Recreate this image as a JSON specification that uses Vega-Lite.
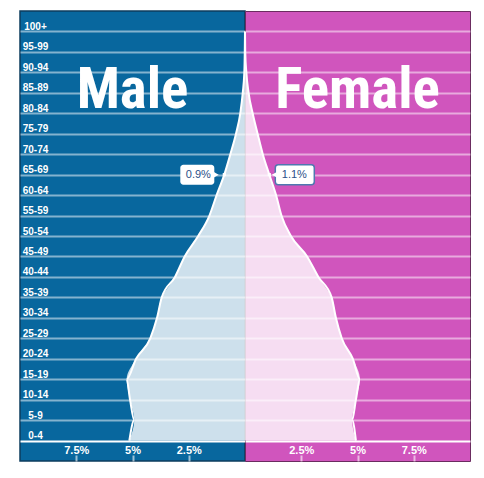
{
  "$schema": "https://vega.github.io/schema/vega-lite/v6.json",
  "padding": {"left": 19, "top": 10, "right": 15, "bottom": 18},
  "background": "white",
  "config": {"font": "Liberation Sans"},
  "data": {
    "values": [
      {"age": "0-4", "sex": "Male", "pct": 5.14},
      {"age": "5-9", "sex": "Male", "pct": 4.92},
      {"age": "10-14", "sex": "Male", "pct": 5.11},
      {"age": "15-19", "sex": "Male", "pct": 5.26},
      {"age": "20-24", "sex": "Male", "pct": 4.84},
      {"age": "25-29", "sex": "Male", "pct": 4.21},
      {"age": "30-34", "sex": "Male", "pct": 3.91},
      {"age": "35-39", "sex": "Male", "pct": 3.70},
      {"age": "40-44", "sex": "Male", "pct": 3.11},
      {"age": "45-49", "sex": "Male", "pct": 2.68},
      {"age": "50-54", "sex": "Male", "pct": 2.08},
      {"age": "55-59", "sex": "Male", "pct": 1.58},
      {"age": "60-64", "sex": "Male", "pct": 1.26},
      {"age": "65-69", "sex": "Male", "pct": 0.92},
      {"age": "70-74", "sex": "Male", "pct": 0.65},
      {"age": "75-79", "sex": "Male", "pct": 0.40},
      {"age": "80-84", "sex": "Male", "pct": 0.21},
      {"age": "85-89", "sex": "Male", "pct": 0.10},
      {"age": "90-94", "sex": "Male", "pct": 0.03},
      {"age": "95-99", "sex": "Male", "pct": 0.01},
      {"age": "100+", "sex": "Male", "pct": 0.0},
      {"age": "0-4", "sex": "Female", "pct": 4.93},
      {"age": "5-9", "sex": "Female", "pct": 4.76},
      {"age": "10-14", "sex": "Female", "pct": 4.93},
      {"age": "15-19", "sex": "Female", "pct": 5.11},
      {"age": "20-24", "sex": "Female", "pct": 4.79},
      {"age": "25-29", "sex": "Female", "pct": 4.30},
      {"age": "30-34", "sex": "Female", "pct": 4.04},
      {"age": "35-39", "sex": "Female", "pct": 3.85},
      {"age": "40-44", "sex": "Female", "pct": 3.26},
      {"age": "45-49", "sex": "Female", "pct": 2.76},
      {"age": "50-54", "sex": "Female", "pct": 2.04},
      {"age": "55-59", "sex": "Female", "pct": 1.62},
      {"age": "60-64", "sex": "Female", "pct": 1.38},
      {"age": "65-69", "sex": "Female", "pct": 1.08},
      {"age": "70-74", "sex": "Female", "pct": 0.79},
      {"age": "75-79", "sex": "Female", "pct": 0.56},
      {"age": "80-84", "sex": "Female", "pct": 0.34},
      {"age": "85-89", "sex": "Female", "pct": 0.16},
      {"age": "90-94", "sex": "Female", "pct": 0.06},
      {"age": "95-99", "sex": "Female", "pct": 0.01},
      {"age": "100+", "sex": "Female", "pct": 0.0},
      {"age": "85-89", "sex": "Title", "pct": 5, "name": "Male"},
      {"age": "85-89", "sex": "Title", "pct": 5, "name": "Female"}
    ]
  },
  "spacing": 0,
  "bounds": "flush",
  "resolve": {"scale": {"x": "independent"}},
  "hconcat": [
    {
      "width": 225,
      "height": 450,
      "view": {"fill": "#08679e", "stroke": "#0c3d5e", "strokeWidth": 1.5},
      "encoding": {
        "y": {
          "field": "age", "type": "ordinal",
          "sort": ["100+", "95-99", "90-94", "85-89", "80-84", "75-79", "70-74", "65-69", "60-64", "55-59", "50-54", "45-49", "40-44", "35-39", "30-34", "25-29", "20-24", "15-19", "10-14", "5-9", "0-4"],
          "scale": {"type": "point", "padding": 1},
          "axis": {
            "title": null, "domain": false, "ticks": false,
            "labelAlign": "center", "labelPadding": -15, "labelBaseline": "alphabetic", "labelOffset": -2,
            "labelColor": "white", "labelFontWeight": "bold", "labelFontSize": 10,
            "grid": true, "gridColor": "white", "gridWidth": 2,
            "gridOpacity": {"condition": {"test": "datum.value === '0-4'", "value": 1}, "value": 0.5}
          }
        },
        "x": {
          "field": "pct", "type": "quantitative",
          "scale": {"domain": [0, 10], "reverse": true, "nice": false},
          "axis": {
            "title": null, "values": [2.5, 5, 7.5], "labelExpr": "datum.value + '%'",
            "grid": false, "domain": false,
            "tickSize": -6, "tickColor": "white", "tickOpacity": 0.6, "tickWidth": 2,
            "labelPadding": -2, "labelBaseline": "alphabetic", "labelFlush": false,
            "labelColor": "white", "labelFontWeight": "bold", "labelFontSize": 11
          }
        }
      },
      "layer": [
        {
          "transform": [{"filter": "datum.sex === 'Male'"}],
          "mark": {"type": "area", "interpolate": "monotone", "color": "white", "fillOpacity": 0.8,
                   "line": {"color": "white", "strokeWidth": 2}}
        },
        {
          "transform": [{"filter": "datum.sex === 'Male' && datum.age === '65-69'"}],
          "mark": {"type": "rect", "color": "white", "cornerRadius": 3,
                   "xOffset": -44, "x2Offset": -10, "yOffset": -10, "y2Offset": 10},
          "encoding": {"x2": {"field": "pct"}, "y2": {"field": "age"}}
        },
        {
          "transform": [{"filter": "datum.sex === 'Male' && datum.age === '65-69'"}],
          "mark": {"type": "point", "shape": "triangle-right", "filled": true, "color": "white", "opacity": 1, "size": 30, "xOffset": -8}
        },
        {
          "transform": [{"filter": "datum.sex === 'Male' && datum.age === '65-69'"}],
          "mark": {"type": "point", "shape": "square", "filled": true, "color": "white", "opacity": 1, "size": 10}
        },
        {
          "transform": [
            {"filter": "datum.sex === 'Male' && datum.age === '65-69'"},
            {"calculate": "format(datum.pct, '.1f') + '%'", "as": "label"}
          ],
          "mark": {"type": "text", "color": "#2b5088", "fontSize": 11, "dx": -26, "baseline": "middle"},
          "encoding": {"text": {"field": "label"}}
        },
        {
          "transform": [{"filter": "datum.name === 'Male'"}],
          "mark": {"type": "text", "color": "white", "font": "Roboto Condensed, DejaVu Sans Condensed, Roboto", "fontWeight": "bold", "fontSize": 57, "baseline": "alphabetic", "dy": 15},
          "encoding": {"text": {"field": "name"}}
        }
      ]
    },
    {
      "width": 225,
      "height": 450,
      "view": {"fill": "#d055bd", "stroke": "#6b2c60", "strokeWidth": 1},
      "encoding": {
        "y": {
          "field": "age", "type": "ordinal",
          "sort": ["100+", "95-99", "90-94", "85-89", "80-84", "75-79", "70-74", "65-69", "60-64", "55-59", "50-54", "45-49", "40-44", "35-39", "30-34", "25-29", "20-24", "15-19", "10-14", "5-9", "0-4"],
          "scale": {"type": "point", "padding": 1},
          "axis": {
            "title": null, "domain": false, "ticks": false, "labels": false,
            "minExtent": 0, "maxExtent": 0, "offset": 0,
            "grid": true, "gridColor": "white", "gridWidth": 2,
            "gridOpacity": {"condition": {"test": "datum.value === '0-4'", "value": 1}, "value": 0.5}
          }
        },
        "x": {
          "field": "pct", "type": "quantitative",
          "scale": {"domain": [0, 10], "nice": false},
          "axis": {
            "title": null, "values": [2.5, 5, 7.5], "labelExpr": "datum.value + '%'",
            "grid": false, "domain": false,
            "tickSize": -6, "tickColor": "white", "tickOpacity": 0.6, "tickWidth": 2,
            "labelPadding": -2, "labelBaseline": "alphabetic", "labelFlush": false,
            "labelColor": "white", "labelFontWeight": "bold", "labelFontSize": 11
          }
        }
      },
      "layer": [
        {
          "transform": [{"filter": "datum.sex === 'Female'"}],
          "mark": {"type": "area", "interpolate": "monotone", "color": "white", "fillOpacity": 0.8,
                   "line": {"color": "white", "strokeWidth": 2}}
        },
        {
          "transform": [{"filter": "datum.sex === 'Female' && datum.age === '65-69'"}],
          "mark": {"type": "rect", "color": "white", "cornerRadius": 3, "stroke": "#4f78b0", "strokeWidth": 1.5,
                   "xOffset": 6, "x2Offset": 45, "yOffset": -10, "y2Offset": 10},
          "encoding": {"x2": {"field": "pct"}, "y2": {"field": "age"}}
        },
        {
          "transform": [{"filter": "datum.sex === 'Female' && datum.age === '65-69'"}],
          "mark": {"type": "point", "shape": "triangle-left", "filled": true, "color": "white", "opacity": 1, "size": 30, "xOffset": 5}
        },
        {
          "transform": [{"filter": "datum.sex === 'Female' && datum.age === '65-69'"}],
          "mark": {"type": "point", "shape": "square", "filled": true, "color": "white", "opacity": 1, "size": 10}
        },
        {
          "transform": [
            {"filter": "datum.sex === 'Female' && datum.age === '65-69'"},
            {"calculate": "format(datum.pct, '.1f') + '%'", "as": "label"}
          ],
          "mark": {"type": "text", "color": "#2b5088", "fontSize": 11, "dx": 25, "baseline": "middle"},
          "encoding": {"text": {"field": "label"}}
        },
        {
          "transform": [{"filter": "datum.name === 'Female'"}],
          "mark": {"type": "text", "color": "white", "font": "Roboto Condensed, DejaVu Sans Condensed, Roboto", "fontWeight": "bold", "fontSize": 57, "baseline": "alphabetic", "dy": 15},
          "encoding": {"text": {"field": "name"}}
        }
      ]
    }
  ]
}
